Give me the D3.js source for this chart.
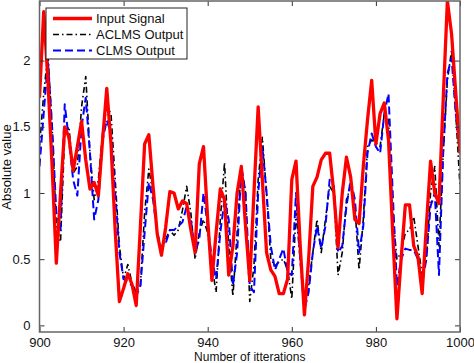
<!DOCTYPE html>
<html>
<head>
<meta charset="utf-8">
<script src="https://cdn.jsdelivr.net/npm/d3@7"></script>
<style>
  body { margin: 0; background: #fff; }
  svg { display: block; font-family: "Liberation Sans", Arial, sans-serif; }
</style>
</head>
<body>
<svg id="chart" width="474" height="363"></svg>
<script>
// iterations 900..1000
const startIter = 900;
const inputSignal = [
  1.72, 2.37, 1.85, 1.2, 0.47, 1.0, 1.5, 1.42, 1.17, 1.35,
  1.54, 1.25, 1.03, 1.08, 0.98, 1.4, 1.79, 1.37, 0.72, 0.18,
  0.28, 0.39, 0.31, 0.15, 0.75, 1.37, 1.44, 1.05, 0.69, 0.53,
  0.74, 1.01, 1.0, 0.88, 0.94, 0.92, 0.72, 0.55, 1.22, 1.35,
  0.8, 0.34, 0.7, 1.03, 0.95, 0.38, 0.6, 1.0, 1.2, 0.75,
  0.34, 1.0, 1.65, 1.1, 0.55, 0.42, 0.37, 0.24, 0.24, 0.35,
  1.1, 1.24, 0.6, 0.08, 0.5, 1.05, 1.12, 1.25, 1.3, 1.3,
  1.0, 0.59, 1.0, 1.27, 1.12, 0.8, 0.77, 1.2, 1.55, 1.85,
  1.37, 1.6, 1.68, 1.4, 0.7, 0.05, 0.5, 0.91, 0.91, 0.6,
  0.52, 0.24, 0.75, 1.24, 1.0, 0.92, 1.7, 2.45, 2.2, 1.75,
  1.3
];
const aclmsOutput = [
  1.35, 1.75, 2.05, 1.5, 0.75, 0.63, 1.45, 1.5, 1.15, 1.2,
  1.65, 1.88, 1.3, 0.95, 1.1, 1.45, 1.65, 1.6, 1.1, 0.6,
  0.35, 0.46, 0.32, 0.25, 0.3, 0.85, 1.18, 1.0, 0.7, 0.55,
  0.65, 0.72, 0.68, 0.72, 0.87, 1.05, 0.85, 0.5, 0.7, 0.8,
  0.7, 0.45, 0.25, 0.8, 1.23, 0.6, 0.22, 0.7, 1.2, 1.0,
  0.18, 0.45, 1.1, 1.42, 1.0, 0.5, 0.45, 0.48, 0.5, 0.42,
  0.2, 0.85, 0.5, 0.15, 0.3, 0.55, 0.8, 0.55, 0.8, 1.05,
  1.0, 0.38, 0.55, 0.95, 1.05, 0.9, 0.42, 0.8, 1.35, 1.4,
  1.38, 1.35, 1.6, 1.55, 0.85, 0.5, 0.55, 0.7, 0.72, 0.82,
  0.6, 0.38, 0.5, 1.0, 1.2, 0.6, 1.3, 1.85, 2.08, 1.6,
  1.05
];
const clmsOutput = [
  1.2, 1.6, 2.0, 1.5, 0.85, 0.72, 1.67, 1.4, 1.1, 0.98,
  1.5, 1.72, 1.3, 0.8, 0.95, 1.4, 1.55, 1.45, 1.0, 0.55,
  0.35, 0.33, 0.3, 0.22, 0.3, 0.7, 1.08, 0.95, 0.7, 0.58,
  0.62, 0.72, 0.72, 0.75, 0.78, 0.9, 0.8, 0.55, 0.65, 1.0,
  0.75, 0.5, 0.35, 0.7, 0.95, 0.8, 0.3, 0.55, 1.2, 1.0,
  0.3, 0.25, 1.0, 1.35, 1.0, 0.6, 0.42, 0.5, 0.58, 0.4,
  0.38, 1.0, 0.5, 0.12, 0.25, 0.55, 0.75, 0.58, 0.75, 1.1,
  1.05, 0.55, 0.6, 0.9, 1.1, 0.95, 0.55, 0.75, 1.3, 1.45,
  1.35, 1.3, 1.6, 1.75, 1.0, 0.3, 0.5, 0.58, 0.57, 0.57,
  0.5, 0.32, 0.5, 0.9, 1.0, 0.38, 1.3, 1.9, 2.02, 1.6,
  1.3
];
const xTicks = [900, 920, 940, 960, 980, 1000];
const yTicks = [0, 0.5, 1, 1.5, 2];
const legendLabels = ["Input Signal", "ACLMS Output", "CLMS Output"];

const series = [
  { name: legendLabels[1], values: aclmsOutput, color: "#000000", width: 1.6, dash: "6,3,1.5,3" },
  { name: legendLabels[2], values: clmsOutput, color: "#0000ff", width: 2, dash: "8,4" },
  { name: legendLabels[0], values: inputSignal, color: "#ff0000", width: 3.3, dash: null }
];

const svg = d3.select("#chart");
const m = { left: 39.5, right: 460, top: 1, bottom: 332 };

const x = d3.scaleLinear().domain([900, 1000]).range([m.left, m.right]);
const y = d3.scaleLinear().domain([-0.05, 2.45]).range([m.bottom, m.top]);

svg.append("clipPath").attr("id", "clip")
  .append("rect").attr("x", m.left).attr("y", m.top)
  .attr("width", m.right - m.left).attr("height", m.bottom - m.top);

const line = d3.line()
  .x((d, i) => x(startIter + i))
  .y(d => y(d));

const plot = svg.append("g").attr("clip-path", "url(#clip)");
series.forEach(s => {
  plot.append("path")
    .datum(s.values)
    .attr("fill", "none")
    .attr("stroke", s.color)
    .attr("stroke-width", s.width)
    .attr("stroke-dasharray", s.dash)
    .attr("stroke-linejoin", "round")
    .attr("d", line);
});

// axes, MATLAB style: ticks inside, box around
const tickLen = 5;
svg.append("g").attr("transform", `translate(0,${m.bottom})`)
  .call(d3.axisBottom(x).tickValues(xTicks).tickSizeInner(-tickLen).tickSizeOuter(0).tickPadding(5.5).tickFormat(d3.format("d")))
  .call(g => g.select(".domain").remove());
svg.append("g").attr("transform", `translate(0,${m.top})`)
  .call(d3.axisTop(x).tickValues(xTicks).tickSizeInner(-tickLen).tickSizeOuter(0).tickFormat(""))
  .call(g => g.select(".domain").remove());
svg.append("g").attr("transform", `translate(${m.left},0)`)
  .call(d3.axisLeft(y).tickValues(yTicks).tickSizeInner(-tickLen).tickSizeOuter(0).tickPadding(9).tickFormat(d => d))
  .call(g => g.select(".domain").remove());
svg.append("g").attr("transform", `translate(${m.right},0)`)
  .call(d3.axisRight(y).tickValues(yTicks).tickSizeInner(-tickLen).tickSizeOuter(0).tickFormat(""))
  .call(g => g.select(".domain").remove());

svg.selectAll(".tick line").attr("stroke", "#333");
svg.selectAll(".tick text").attr("font-size", 13).attr("fill", "#111")
  .attr("font-family", "'Liberation Sans', Arial, sans-serif");
svg.selectAll("g:first-of-type .tick text");

svg.append("rect")
  .attr("x", m.left).attr("y", m.top)
  .attr("width", m.right - m.left).attr("height", m.bottom - m.top)
  .attr("fill", "none").attr("stroke", "#666").attr("stroke-width", 1.5);

// axis titles
svg.append("text")
  .attr("x", (m.left + m.right) / 2).attr("y", 360.5)
  .attr("text-anchor", "middle").attr("font-size", 12).attr("fill", "#111")
  .text("Number of itterations");
svg.append("text")
  .attr("transform", "translate(11,167) rotate(-90)")
  .attr("text-anchor", "middle").attr("font-size", 13).attr("fill", "#111")
  .text("Absolute value");

// legend
const legend = svg.append("g");
legend.append("rect")
  .attr("x", 46).attr("y", 8).attr("width", 141).attr("height", 51)
  .attr("fill", "#fff").attr("stroke", "#222").attr("stroke-width", 1);
const legendOrder = [series[2], series[0], series[1]];
legendOrder.forEach((s, i) => {
  const ly = 18.5 + i * 16;
  legend.append("line")
    .attr("x1", 53).attr("x2", 92).attr("y1", ly).attr("y2", ly)
    .attr("stroke", s.color).attr("stroke-width", s.width)
    .attr("stroke-dasharray", s.dash);
  legend.append("text")
    .attr("x", 96).attr("y", ly).attr("dy", "0.35em")
    .attr("font-size", 13).attr("fill", "#111")
    .text(s.name);
});
</script>
</body>
</html>
